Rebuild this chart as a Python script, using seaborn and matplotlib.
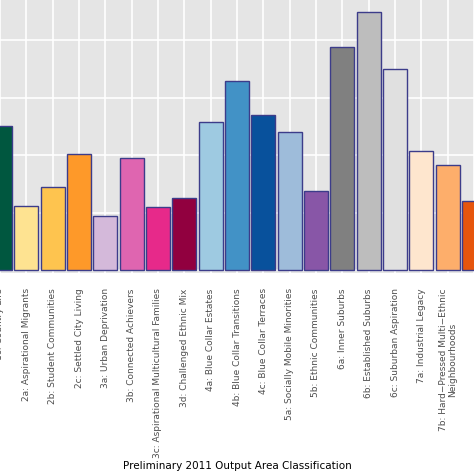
import matplotlib
matplotlib.use('Agg')
import matplotlib.pyplot as plt
import seaborn as sns
import pandas as pd

categories = ['1c: Country Life', '2a: Aspirational Migrants', '2b: Student Communities',
              '2c: Settled City Living', '3a: Urban Deprivation', '3b: Connected Achievers',
              '3c: Aspirational Multicultural Families', '3d: Challenged Ethnic Mix',
              '4a: Blue Collar Estates', '4b: Blue Collar Transitions', '4c: Blue Collar Terraces',
              '5a: Socially Mobile Minorities', '5b: Ethnic Communities', '6a: Inner Suburbs',
              '6b: Established Suburbs', '6c: Suburban Aspiration', '7a: Industrial Legacy',
              '7b: Hard\u2212Pressed Multi\u2212Ethnic\nNeighbourhoods', '7c']
values = [144, 64, 83, 116, 54, 112, 63, 72, 148, 189, 155, 138, 79, 223, 258, 201, 119, 105, 69]
colours = ['#00573f', '#fee391', '#fec44f', '#fe9929', '#d4b9da', '#df65b0', '#e7298a', '#91003f',
           '#9ecae1', '#4292c6', '#08519c', '#9ebcda', '#8856a7', '#808080', '#bdbdbd', '#e0e0e0',
           '#fee6ce', '#fdae6b', '#e6550d']
# the 7c tick label falls outside the cropped reference
shown_labels = categories[:-1] + ['']

df = pd.DataFrame({'cat': categories, 'val': values})

sns.set_style('darkgrid', {'axes.facecolor': '#e5e5e5', 'grid.color': 'white'})
fig = plt.figure(figsize=(4.74, 4.74), dpi=100)
ax = fig.add_axes([0, 201 / 474, 1, 273 / 474])

sns.barplot(data=df, x='cat', y='val', hue='cat', palette=colours, legend=False,
            width=0.9, saturation=1, edgecolor='#3c3c8a', linewidth=1, ax=ax)

ax.set_xlim(0.06, 17.88)
ax.set_ylim(-3, 270)
ax.set_yticks([0, 57.5, 115, 172.5, 230])
ax.set_yticklabels([])
ax.tick_params(axis='y', length=0)
ax.tick_params(axis='x', length=3, color='#333333', pad=8)
ax.set_xticks(range(len(categories)))
ax.set_xticklabels(shown_labels, rotation=90, va='top', ha='center', fontsize=6.5,
                   color='#4d4d4d', linespacing=1.0)
ax.grid(True, color='white', linewidth=1.2)
ax.set_ylabel('')
ax.set_xlabel('Preliminary 2011 Output Area Classification', fontsize=7.5, color='black')
ax.xaxis.set_label_coords(0.5, -0.69)
for s in ax.spines.values():
    s.set_visible(False)

fig.savefig('out.png', dpi=100)
